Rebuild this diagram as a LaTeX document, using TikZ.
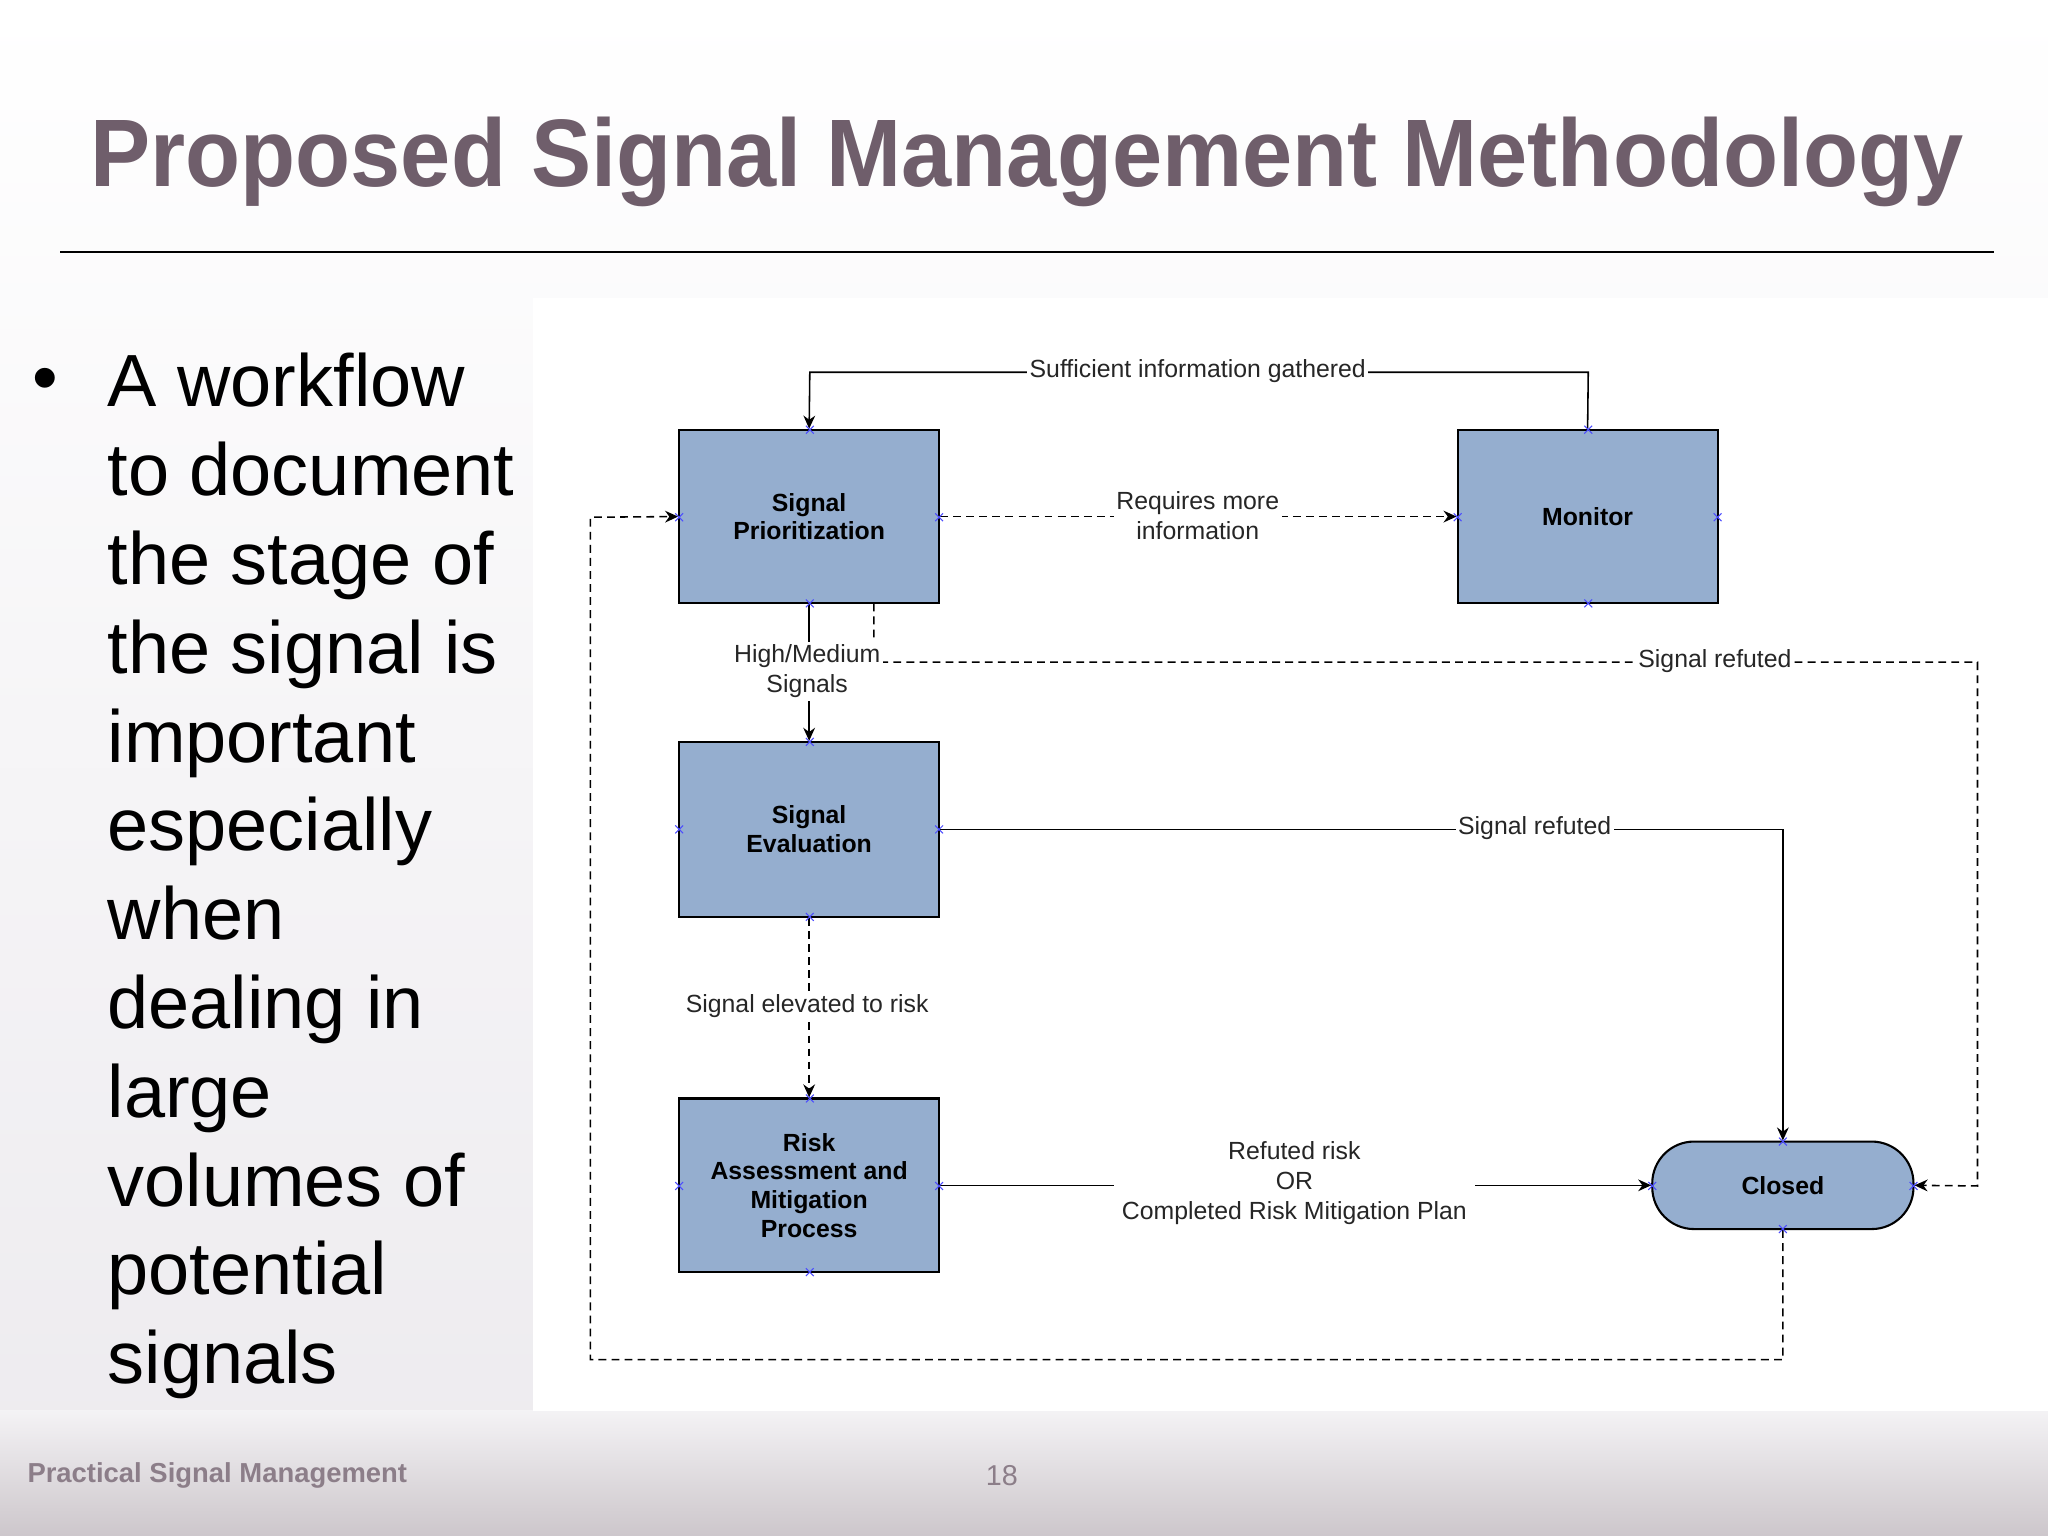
\documentclass[tikz,border=0pt]{standalone}
\usepackage{fontspec}
\setmainfont{Liberation Sans}
\usetikzlibrary{arrows.meta}
\definecolor{titlec}{HTML}{6F5E6B}
\definecolor{boxc}{HTML}{95AECF}
\definecolor{bgc}{HTML}{ECEAEE}
\tikzset{
  blk/.style={draw=black,line width=0.8pt,fill=boxc,font=\fontsize{9.5}{11}\selectfont\bfseries,align=center,inner sep=0},
  con/.style={line width=0.6pt,-{Stealth[length=5pt,width=4.5pt]}},
  dcon/.style={con,dash pattern=on 3pt off 2pt},
  lab/.style={font=\fontsize{9.5}{11.5}\selectfont,fill=white,inner sep=1pt,align=center,text=black!85}
}
\begin{document}
\begin{tikzpicture}[x=0.5pt,y=-0.5pt]
\useasboundingbox (0,0) rectangle (1568,1176);
\shade[top color=white,bottom color=bgc] (0,0) rectangle (1568,1176);
\shade[top color=bgc!60,bottom color=titlec!35] (0,1080) rectangle (1568,1176);
\fill[white] (408,228) rectangle (1568,1080);
\node[anchor=west,font=\fontsize{34}{40}\selectfont\bfseries,text=titlec,xscale=1.015,yscale=1.08] (title) at (62,124) {Proposed Signal Management Methodology};
\draw[line width=0.8pt] (46,193) -- (1527,193);
\node[anchor=north west,font=\fontsize{28.3}{34}\selectfont,align=left,inner sep=0] (bullet) at (82,270)
 {A workflow\\to document\\the stage of\\the signal is\\important\\especially\\when\\dealing in\\large\\volumes of\\potential\\signals};
\node[font=\fontsize{28}{34}\selectfont] (dot) at (35,295) {•};
\node[anchor=west,font=\fontsize{10.5}{13}\selectfont\bfseries,text=titlec!80] (foot) at (14,1130) {Practical Signal Management};
\node[font=\fontsize{11}{13}\selectfont,text=titlec!80] (pg) at (767,1130) {18};

\node[blk,minimum width=99.5pt,minimum height=66.5pt] (sp) at (619.5,395.5) {Signal\\Prioritization};
\node[blk,minimum width=99.5pt,minimum height=66.5pt] (mo) at (1215.5,395.5) {Monitor};
\node[blk,minimum width=99.5pt,minimum height=67pt] (se) at (619.5,635) {Signal\\Evaluation};
\node[blk,minimum width=99.5pt,minimum height=66.5pt] (ra) at (619.5,907.5) {Risk\\Assessment and\\Mitigation\\Process};
\node[blk,rounded corners=16pt,minimum width=100pt,minimum height=33.5pt] (cl) at (1365,907.5) {Closed};

\coordinate (c1) at (1216,285); \coordinate (c2) at (620,285);
\draw[con] (mo.north) -- (c1) -- (c2) -- (sp.north);
\node[lab] (l1) at (917,284) {Sufficient information gathered};
\draw[dcon] (sp.east) -- (mo.west);
\node[lab] (l2) at (917,395) {Requires more\\information};
\draw[con] (sp.south) -- (se.north);
\coordinate (d0) at (669,462); \coordinate (d1) at (669,507); \coordinate (d2) at (1514,507); \coordinate (d3) at (1514,908);
\draw[dcon] (d0) -- (d1) -- (d2) -- (d3) -- (cl.east);
\node[lab] (l3) at (618,514) {High/Medium\\Signals};
\node[lab] (l4) at (1313,506) {Signal refuted};
\coordinate (e1) at (1365,635);
\draw[con] (se.east) -- (e1) -- (cl.north);
\node[lab] (l5) at (1175,634) {Signal refuted};
\draw[dcon] (se.south) -- (ra.north);
\node[lab] (l6) at (618,770) {Signal elevated to risk};
\draw[con] (ra.east) -- (cl.west);
\node[lab,inner xsep=3pt] (l7) at (991,906) {Refuted risk\\OR\\Completed Risk Mitigation Plan};
\coordinate (f1) at (1365,1041); \coordinate (f2) at (452,1041); \coordinate (f3) at (452,396);
\draw[dcon] (cl.south) -- (f1) -- (f2) -- (f3) -- (sp.west);
\foreach \p in {(620,329),(520,396),(719,396),(620,462),(1216,329),(1116,396),(1315,396),(1216,462),(620,568),(520,635),(719,635),(620,702),(620,841),(520,908),(719,908),(620,974),(1365,874),(1265,908),(1465,908),(1365,941)}
  \draw[blue!70,line width=0.4pt] \p ++(-3,-3) -- ++(6,6) \p ++(-3,3) -- ++(6,-6);
\end{tikzpicture}
\end{document}
